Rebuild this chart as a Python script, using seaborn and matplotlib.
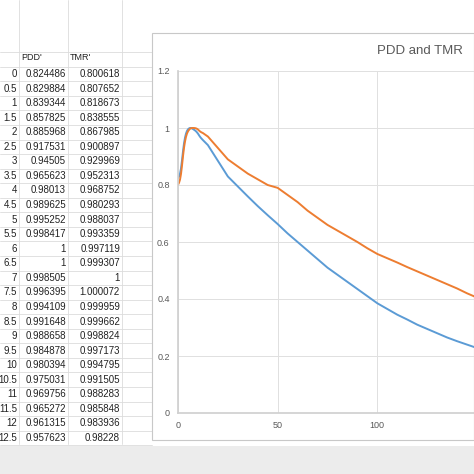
import matplotlib
matplotlib.use("Agg")
import matplotlib.pyplot as plt
import seaborn as sns
import pandas as pd
from matplotlib.patches import Rectangle

sns.set_theme(style="white")
plt.rcParams['font.family'] = ['Liberation Sans', 'DejaVu Sans']

tbl_depth = ["0","0.5","1","1.5","2","2.5","3","3.5","4","4.5","5","5.5","6","6.5","7","7.5","8","8.5","9","9.5","10","10.5","11","11.5","12","12.5"]
tbl_pdd = ["0.824486","0.829884","0.839344","0.857825","0.885968","0.917531","0.94505","0.965623","0.98013","0.989625","0.995252","0.998417","1","1","0.998505","0.996395","0.994109","0.991648","0.988658","0.984878","0.980394","0.975031","0.969756","0.965272","0.961315","0.957623"]
tbl_tmr = ["0.800618","0.807652","0.818673","0.838555","0.867985","0.900897","0.929969","0.952313","0.968752","0.980293","0.988037","0.993359","0.997119","0.999307","1","1.000072","0.999959","0.999662","0.998824","0.997173","0.994795","0.991505","0.988283","0.985848","0.983936","0.98228"]

ext_depth = [15,20,25,30,35,40,45,50,55,60,65,70,75,80,85,90,95,100,105,110,115,120,125,130,135,140,145,150]
ext_pdd = [0.94,0.885,0.83,0.795,0.76,0.726,0.694,0.663,0.63,0.60,0.57,0.54,0.51,0.485,0.46,0.435,0.41,0.385,0.365,0.345,0.328,0.31,0.295,0.28,0.265,0.252,0.24,0.228]
ext_tmr = [0.97,0.93,0.89,0.865,0.84,0.82,0.80,0.79,0.765,0.74,0.71,0.685,0.66,0.64,0.62,0.60,0.578,0.558,0.543,0.528,0.512,0.497,0.482,0.467,0.452,0.437,0.42,0.405]

depth = [float(d) for d in tbl_depth] + ext_depth
pdd = [float(v) for v in tbl_pdd] + ext_pdd
tmr = [float(v) for v in tbl_tmr] + ext_tmr
df = pd.DataFrame({"depth": depth, "PDD": pdd, "TMR": tmr})

W = 474
fig = plt.figure(figsize=(4.74, 4.74), dpi=100)
fig.patch.set_facecolor("white")

def fx(px): return px / W
def fy(py): return 1 - py / W

# spreadsheet grid
row0, dy = 74, 14.56
for i in range(-2, 27):
    y = row0 + dy * i + dy / 2
    fig.add_artist(plt.Line2D([0, fx(152)], [fy(y), fy(y)], color="#dcdcdc", lw=0.6, zorder=-10))
for x in [19, 68, 122]:
    fig.add_artist(plt.Line2D([fx(x), fx(x)], [fy(0), fy(444)], color="#dcdcdc", lw=0.6, zorder=-10))
fig.text(fx(21), fy(58), "PDD'", fontsize=6.5, va="center", color="#222")
fig.text(fx(70), fy(58), "TMR'", fontsize=6.5, va="center", color="#222")
for i, (d, p, t) in enumerate(zip(tbl_depth, tbl_pdd, tbl_tmr)):
    y = fy(row0 + dy * i)
    fig.text(fx(17), y, d, fontsize=7, ha="right", va="center", color="#222")
    fig.text(fx(66), y, p, fontsize=7, ha="right", va="center", color="#222")
    fig.text(fx(120), y, t, fontsize=7, ha="right", va="center", color="#222")

# chart area box
fig.add_artist(Rectangle((fx(152), fy(440)), 1 - fx(152), fy(33) - fy(440),
                         facecolor="white", edgecolor="#c8c8c8", lw=0.8,
                         transform=fig.transFigure, zorder=-5))
# bottom gray band
fig.add_artist(Rectangle((0, 0), 1, fy(446), facecolor="#ececec", edgecolor="none",
                         transform=fig.transFigure, zorder=-5))

ax = fig.add_axes([fx(178), fy(413), 1 - fx(178), fy(71) - fy(413)])
ax.set_zorder(5)
ax.set_facecolor("none")
sns.lineplot(data=df, x="depth", y="PDD", ax=ax, color="#5b9bd5", lw=1.4)
sns.lineplot(data=df, x="depth", y="TMR", ax=ax, color="#ed7d31", lw=1.4)
ax.set_xlim(0, 148.5)
ax.set_ylim(0, 1.2)
ax.set_xticks([0, 50, 100])
ax.set_yticks([0, 0.2, 0.4, 0.6, 0.8, 1, 1.2])
ax.set_yticklabels(["0", "0.2", "0.4", "0.6", "0.8", "1", "1.2"])
ax.grid(True, color="#e0e0e0", lw=0.7)
for s in ["top", "right"]:
    ax.spines[s].set_visible(False)
ax.spines["left"].set_color("#d0d0d0")
ax.spines["bottom"].set_color("#d0d0d0")
ax.tick_params(labelsize=6.5, colors="#595959", length=0, pad=6)
ax.set_xlabel("")
ax.set_ylabel("")
fig.text(fx(420), fy(51), "PDD and TMR", fontsize=9.5, ha="center", va="center", color="#595959")

fig.savefig("out.png", dpi=100)
